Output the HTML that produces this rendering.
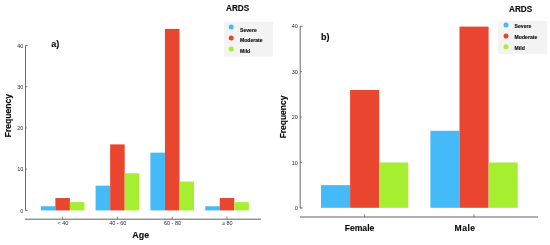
<!DOCTYPE html>
<html><head><meta charset="utf-8"><title>ARDS</title>
<style>
html,body{margin:0;padding:0;background:#fff;}
svg{display:block;font-family:"Liberation Sans",sans-serif;}
.t{font-size:5.5px;fill:#2a2a2a;}
.b{font-weight:bold;fill:#0a0a0a;stroke:#0a0a0a;stroke-width:0.12px;}
</style></head><body>
<svg width="550" height="245" viewBox="0 0 550 245">
<rect width="550" height="245" fill="#fff"/>
<rect x="40.80" y="206.28" width="14.55" height="4.12" fill="#45BAF8"/>
<rect x="55.35" y="198.03" width="14.55" height="12.38" fill="#EA452E"/>
<rect x="69.90" y="202.15" width="14.55" height="8.25" fill="#A6EE30"/>
<rect x="95.60" y="185.65" width="14.55" height="24.75" fill="#45BAF8"/>
<rect x="110.15" y="144.40" width="14.55" height="66.00" fill="#EA452E"/>
<rect x="124.70" y="173.28" width="14.55" height="37.12" fill="#A6EE30"/>
<rect x="150.40" y="152.65" width="14.55" height="57.75" fill="#45BAF8"/>
<rect x="164.95" y="28.90" width="14.55" height="181.50" fill="#EA452E"/>
<rect x="179.50" y="181.53" width="14.55" height="28.88" fill="#A6EE30"/>
<rect x="205.20" y="206.28" width="14.55" height="4.12" fill="#45BAF8"/>
<rect x="219.75" y="198.03" width="14.55" height="12.38" fill="#EA452E"/>
<rect x="234.30" y="202.15" width="14.55" height="8.25" fill="#A6EE30"/>
<path d="M27.6 45.4H25.5V210.4H27.6" fill="none" stroke="#585858" stroke-width="0.9"/>
<path d="M25.5 169.15H27.2" stroke="#585858" stroke-width="0.7"/>
<path d="M25.5 127.90H27.2" stroke="#585858" stroke-width="0.7"/>
<path d="M25.5 86.65H27.2" stroke="#585858" stroke-width="0.7"/>
<text class="t" x="23.3" y="212.60" text-anchor="end">0</text>
<text class="t" x="23.3" y="171.35" text-anchor="end">10</text>
<text class="t" x="23.3" y="130.10" text-anchor="end">20</text>
<text class="t" x="23.3" y="88.85" text-anchor="end">30</text>
<text class="t" x="23.3" y="47.60" text-anchor="end">40</text>
<path d="M25 219.2H261" stroke="#585858" stroke-width="0.95"/>
<path d="M62.6 216.6V219.2" stroke="#585858" stroke-width="0.7"/>
<text class="t" x="62.9" y="225.3" text-anchor="middle">&lt; 40</text>
<path d="M117.4 216.6V219.2" stroke="#585858" stroke-width="0.7"/>
<text class="t" x="117.7" y="225.3" text-anchor="middle">40 - 60</text>
<path d="M172.2 216.6V219.2" stroke="#585858" stroke-width="0.7"/>
<text class="t" x="172.5" y="225.3" text-anchor="middle">60 - 80</text>
<path d="M227.0 216.6V219.2" stroke="#585858" stroke-width="0.7"/>
<text class="t" x="227.3" y="225.3" text-anchor="middle">≥ 80</text>
<text class="b" x="140.7" y="238.3" text-anchor="middle" font-size="8.9">Age</text>
<text class="b" transform="translate(11.1 115.7) rotate(-90)" text-anchor="middle" font-size="8.55">Frequency</text>
<text class="b" x="51.3" y="46.6" font-size="9">a)</text>
<text class="b" x="226.0" y="11.3" font-size="8.2">ARDS</text>
<rect x="224.0" y="22.0" width="49.0" height="34.5" fill="#f3f3f3"/>
<circle cx="231.2" cy="27.0" r="2.5" fill="#45BAF8"/>
<text class="b" x="240.0" y="31.6" font-size="5.1">Severe</text>
<circle cx="231.2" cy="38.0" r="2.5" fill="#EA452E"/>
<text class="b" x="240.0" y="42.0" font-size="5.1">Moderate</text>
<circle cx="231.2" cy="49.0" r="2.5" fill="#A6EE30"/>
<text class="b" x="240.0" y="53.0" font-size="5.1">Mild</text>
<rect x="321.00" y="185.15" width="29.10" height="22.65" fill="#45BAF8"/>
<rect x="350.10" y="90.02" width="29.10" height="117.78" fill="#EA452E"/>
<rect x="379.20" y="162.50" width="29.10" height="45.30" fill="#A6EE30"/>
<rect x="430.40" y="130.79" width="29.10" height="77.01" fill="#45BAF8"/>
<rect x="459.50" y="26.60" width="29.10" height="181.20" fill="#EA452E"/>
<rect x="488.60" y="162.50" width="29.10" height="45.30" fill="#A6EE30"/>
<path d="M302.6 26.2H300.2V208H302.6" fill="none" stroke="#585858" stroke-width="0.9"/>
<path d="M300.2 162.55H302" stroke="#585858" stroke-width="0.7"/>
<path d="M300.2 117.10H302" stroke="#585858" stroke-width="0.7"/>
<path d="M300.2 71.65H302" stroke="#585858" stroke-width="0.7"/>
<text class="t" x="297.9" y="210.20" text-anchor="end">0</text>
<text class="t" x="297.9" y="164.75" text-anchor="end">10</text>
<text class="t" x="297.9" y="119.30" text-anchor="end">20</text>
<text class="t" x="297.9" y="73.85" text-anchor="end">30</text>
<text class="t" x="297.9" y="28.40" text-anchor="end">40</text>
<path d="M300 217H538" stroke="#585858" stroke-width="0.95"/>
<path d="M364.6 214.2V217" stroke="#585858" stroke-width="0.7"/>
<path d="M474.0 214.2V217" stroke="#585858" stroke-width="0.7"/>
<text class="b" x="359.5" y="230.6" text-anchor="middle" font-size="8.6">Female</text>
<text class="b" x="465" y="230.6" text-anchor="middle" font-size="8.6" letter-spacing="0.45">Male</text>
<text class="b" transform="translate(285.5 117) rotate(-90)" text-anchor="middle" font-size="8.45">Frequency</text>
<text class="b" x="321" y="40" font-size="9">b)</text>
<text class="b" x="509.0" y="11.5" font-size="8.2">ARDS</text>
<rect x="498.0" y="21.0" width="49.0" height="33.0" fill="#f3f3f3"/>
<circle cx="506.0" cy="25.0" r="2.5" fill="#45BAF8"/>
<text class="b" x="514.6" y="28.2" font-size="5.1">Severe</text>
<circle cx="506.0" cy="36.0" r="2.5" fill="#EA452E"/>
<text class="b" x="514.6" y="38.6" font-size="5.1">Moderate</text>
<circle cx="506.0" cy="46.8" r="2.5" fill="#A6EE30"/>
<text class="b" x="514.6" y="49.6" font-size="5.1">Mild</text>
</svg></body></html>
